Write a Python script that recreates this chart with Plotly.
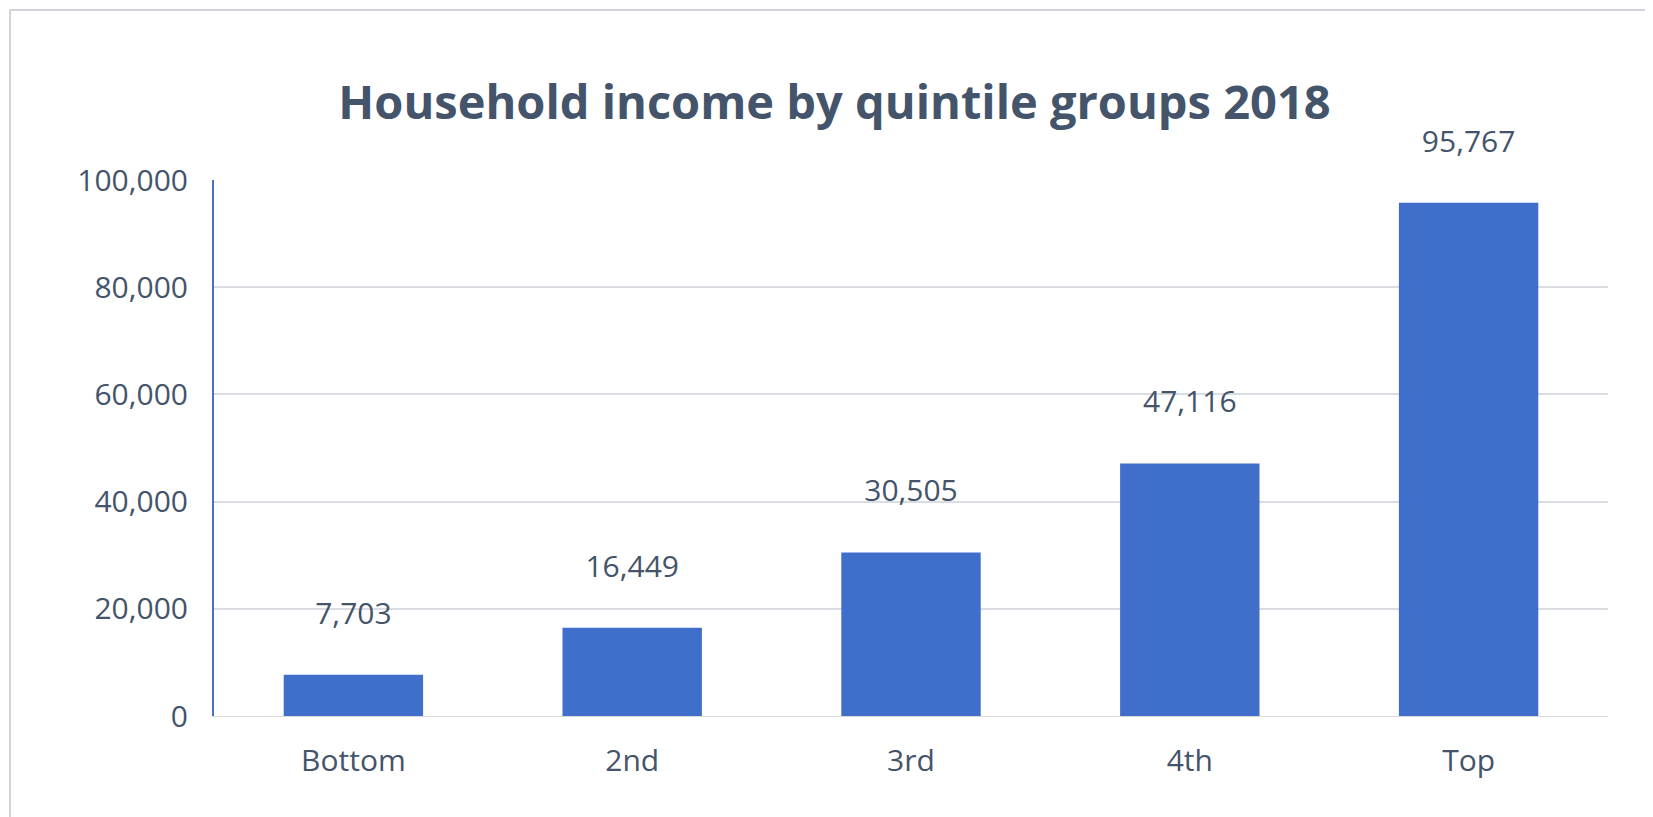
import plotly.graph_objects as go

quintiles = ["Bottom", "2nd", "3rd", "4th", "Top"]
income = [7703, 16449, 30505, 47116, 95767]
tick_vals = [0, 20000, 40000, 60000, 80000, 100000]

text_color = "#44546a"
font_family = "Open Sans, Liberation Sans, sans-serif"

fig = go.Figure(
    go.Bar(
        x=quintiles,
        y=income,
        text=[f"{v:,}" for v in income],
        texttemplate="%{text}<br> ",
        textposition="outside",
        textfont=dict(size=30, color=text_color),
        marker=dict(color="#3f6fca", line=dict(width=0)),
        cliponaxis=False,
    )
)

fig.update_layout(
    width=1653,
    height=817,
    paper_bgcolor="white",
    plot_bgcolor="white",
    font=dict(family=font_family, color=text_color),
    title=dict(
        text="<b>Household income by quintile groups 2018</b>",
        x=0.5,
        y=0.905,
        xanchor="center",
        font=dict(size=47, color=text_color),
    ),
    bargap=0.5,
    showlegend=False,
    margin=dict(l=206, r=53, t=172, b=109),
    shapes=[
        dict(type="rect", xref="paper", yref="paper", x0=-0.1463, x1=1.0359,
             y0=-0.1996, y1=1.317, line=dict(color="#d0d4da", width=2))
    ],
)

fig.update_xaxes(
    tickfont=dict(size=30, color=text_color),
    showline=True,
    linecolor="#d9d9d9",
    linewidth=1,
    ticks="",
    ticklabelstandoff=18,
)
fig.update_yaxes(
    range=[0, 100000],
    tickvals=tick_vals,
    tickformat=",",
    tickfont=dict(size=30, color=text_color),
    gridcolor="#d9dde3",
    gridwidth=1.5,
    showline=True,
    linecolor="#4472c4",
    linewidth=2,
    zeroline=False,
    ticklabelstandoff=18,
)

fig.write_html("out.html")
